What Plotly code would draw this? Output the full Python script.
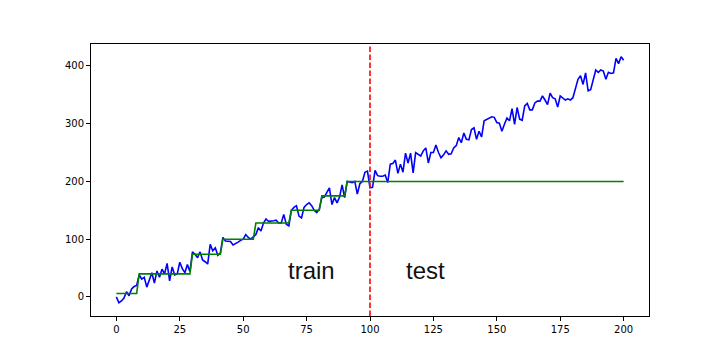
import plotly.graph_objects as go

# Blue series: observed values at x = 0..200
x_vals = list(range(201))
y_vals = [
    0, -10, -7, -2, 9, 2, 14, 18, 20, 38,
    31, 34, 17, 30, 42, 24, 45, 34, 48, 40,
    58, 28, 52, 38, 40, 60, 49, 42, 56, 44,
    78, 74, 68, 78, 64, 61, 57, 91, 80, 85,
    72, 76, 103, 97, 97, 96, 90, 92, 95, 98,
    100, 108, 103, 100, 104, 108, 120, 114, 128, 135,
    131, 131, 132, 133, 128, 128, 143, 126, 123, 150,
    155, 158, 140, 137, 155, 160, 163, 158, 150, 146,
    152, 172, 173, 181, 189, 160, 172, 163, 173, 194,
    172, 200, 199, 198, 200, 178, 196, 200, 216, 218,
    189, 190, 219, 210, 209, 209, 211, 198, 230, 231,
    237, 214, 230, 216, 249, 232, 249, 215, 250, 247,
    244, 253, 258, 232, 250, 250, 263, 250, 241, 246,
    253, 247, 248, 258, 262, 276, 267, 284, 273, 272,
    290, 293, 273, 287, 277, 305, 307, 309, 312, 311,
    302, 301, 287, 299, 310, 305, 326, 299, 328, 308,
    306, 331, 335, 324, 324, 336, 339, 339, 348, 341,
    333, 353, 345, 343, 329, 348, 345, 341, 343, 341,
    345, 359, 377, 383, 368, 388, 357, 359, 374, 393,
    389, 393, 391, 377, 389, 387, 388, 413, 404, 416,
    410,
]

# Green series: step predictions (value at each breakpoint)
step_x = [0, 8, 9, 29, 30, 41, 42, 54, 55, 68, 69, 80, 81, 90, 91, 200]
step_y = [6, 6, 40, 40, 74, 74, 100, 100, 128, 128, 150, 150, 175, 175, 200, 200]

split_x = 100
labels = ["train", "test"]
label_x = [77, 122]
label_y = [45, 45]
x_ticks = [0, 25, 50, 75, 100, 125, 150, 175, 200]
y_ticks = [0, 100, 200, 300, 400]

fig = go.Figure()
fig.add_trace(go.Scatter(x=x_vals, y=y_vals, mode="lines",
                         line=dict(color="#0000ff", width=1.6), showlegend=False))
fig.add_trace(go.Scatter(x=step_x, y=step_y, mode="lines",
                         line=dict(color="#008000", width=1.6), showlegend=False))

fig.add_shape(type="line", x0=split_x, x1=split_x, y0=0, y1=1,
              xref="x", yref="paper",
              line=dict(color="#ff0000", width=1.6, dash="5.5px,2.5px"))

for t, tx, ty in zip(labels, label_x, label_y):
    fig.add_annotation(x=tx, y=ty, text=t, showarrow=False,
                       font=dict(family="Liberation Sans, Arial, sans-serif",
                                 size=24, color="#111111"))

axis_common = dict(showline=True, linecolor="black", linewidth=1, mirror=True,
                   ticks="outside", ticklen=4, tickcolor="black", tickwidth=1,
                   showgrid=False, zeroline=False,
                   tickfont=dict(family="DejaVu Sans", size=10, color="black"))

fig.update_xaxes(range=[-10, 210], tickvals=x_ticks, **axis_common)
fig.update_yaxes(range=[-33, 438], tickvals=y_ticks, **axis_common)

fig.update_layout(width=720, height=360,
                  margin=dict(l=83, r=79, t=36, b=52),
                  paper_bgcolor="white", plot_bgcolor="white")

fig.write_html("out.html")
